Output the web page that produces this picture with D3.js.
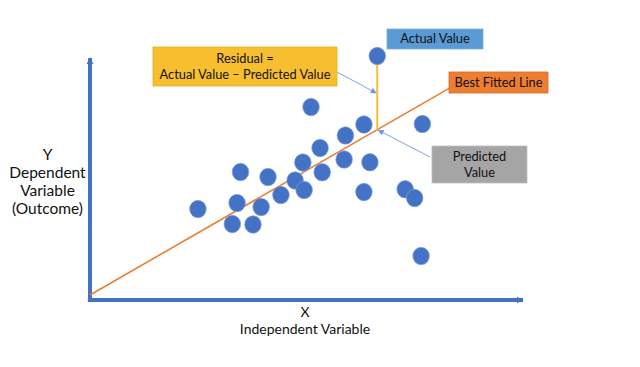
<!DOCTYPE html>
<html>
<head>
<meta charset="utf-8">
<script src="https://cdn.jsdelivr.net/npm/d3@7"></script>
<style>
  body { margin: 0; background: #fff; }
  svg text { font-family: Lato, "Open Sans", sans-serif; fill: #111; }
</style>
</head>
<body>
<svg width="640" height="367"></svg>
<script>
// observations (x = independent variable, y = outcome), 0-100 units
let obs_x = [25.1, 33.1, 34.2, 35.0, 37.9, 39.8, 41.4, 44.4, 47.7, 49.5, 49.8, 53.5,
             54.0, 51.4, 59.1, 59.4, 63.7, 65.1, 63.7, 66.8, 77.3, 73.3, 75.5, 77.0];
let obs_y = [36.4, 30.4, 38.8, 51.2, 30.2, 37.2, 49.2, 42.0, 47.8, 55.0, 44.0, 60.8,
             51.1, 77.2, 56.2, 65.8, 70.2, 55.1, 43.2, 97.6, 70.4, 44.3, 40.8, 17.6];

// best fitted line y = a + b*x
let fit_intercept = 2.0;
let fit_slope = 0.99;
let fit_x_end = 83.7;

// the point used to show the residual
let residual_index = 19;

let y_label_lines = ["Y", "Dependent", "Variable", "(Outcome)"];
let x_label_lines = ["X", "Independent Variable"];

const blue = "#4472C4";
const svg = d3.select("svg");

let x = d3.scaleLinear().domain([0, 100]).range([90, 520]);
let y = d3.scaleLinear().domain([0, 100]).range([300, 50]);

let defs = svg.append("defs");

function addMarker(id, color, w, h) {
  defs.append("marker")
      .attr("id", id)
      .attr("viewBox", "0 0 10 10")
      .attr("refX", 9).attr("refY", 5)
      .attr("markerWidth", w).attr("markerHeight", h)
      .attr("markerUnits", "userSpaceOnUse")
      .attr("orient", "auto")
    .append("path")
      .attr("d", "M0,0 L10,5 L0,10 Z")
      .attr("fill", color);
}
addMarker("axis-arrow", blue, 7, 10);
addMarker("thin-arrow", "#6f9be0", 7, 6);

// axes drawn as arrows
svg.append("line")
    .attr("x1", x(-0.5)).attr("y1", y(0))
    .attr("x2", x(100.7)).attr("y2", y(0))
    .attr("stroke", blue).attr("stroke-width", 4)
    .attr("marker-end", "url(#axis-arrow)");

svg.append("line")
    .attr("x1", x(0)).attr("y1", y(-0.8))
    .attr("x2", x(0)).attr("y2", y(96.8))
    .attr("stroke", blue).attr("stroke-width", 4)
    .attr("marker-end", "url(#axis-arrow)");

// best fitted line
svg.append("line")
    .attr("x1", x(0)).attr("y1", y(fit_intercept))
    .attr("x2", x(fit_x_end)).attr("y2", y(fit_intercept + fit_slope * fit_x_end))
    .attr("stroke", "#ED7D31").attr("stroke-width", 1.6);

// residual segment
let rx = obs_x[residual_index], ry = obs_y[residual_index];
let predicted = fit_intercept + fit_slope * rx;
svg.append("line")
    .attr("x1", x(rx)).attr("y1", y(ry))
    .attr("x2", x(rx)).attr("y2", y(predicted))
    .attr("stroke", "#F7BE2E").attr("stroke-width", 2);

// points
svg.append("g").selectAll("ellipse")
    .data(d3.range(obs_x.length))
  .enter().append("ellipse")
    .attr("cx", i => x(obs_x[i]))
    .attr("cy", i => y(obs_y[i]))
    .attr("rx", 8.3).attr("ry", 8.7)
    .attr("fill", blue)
    .attr("stroke", "#7f9fd8").attr("stroke-width", 0.7);

// callout arrows
svg.append("line")
    .attr("x1", 337).attr("y1", 72)
    .attr("x2", x(rx) - 1).attr("y2", 93)
    .attr("stroke", "#6f9be0").attr("stroke-width", 0.9)
    .attr("marker-end", "url(#thin-arrow)");

svg.append("line")
    .attr("x1", 430).attr("y1", 157)
    .attr("x2", x(rx) + 1).attr("y2", y(predicted) + 0.5)
    .attr("stroke", "#6f9be0").attr("stroke-width", 0.9)
    .attr("marker-end", "url(#thin-arrow)");

// annotation boxes
function addBox(bx, by, bw, bh, fill, stroke, lines, size) {
  let g = svg.append("g");
  g.append("rect")
      .attr("x", bx).attr("y", by)
      .attr("width", bw).attr("height", bh)
      .attr("fill", fill).attr("stroke", stroke).attr("stroke-width", 0.8);
  let step = 15.5;
  let y0 = by + bh / 2 - (lines.length - 1) * step / 2;
  g.selectAll("text")
      .data(lines)
    .enter().append("text")
      .attr("x", bx + bw / 2)
      .attr("y", (d, i) => y0 + i * step)
      .attr("dy", "0.35em")
      .attr("text-anchor", "middle")
      .style("font-size", size + "px")
      .text(d => d);
}

addBox(153, 47, 184, 39, "#F7BF2F", "#E3AC25", ["Residual =", "Actual Value \u2013 Predicted Value"], 12.8);
addBox(387, 29, 96, 20, "#5B9BD5", "#7bb0e0", ["Actual Value"], 12.8);
addBox(449, 72, 99, 21, "#ED7D31", "#d96a22", ["Best Fitted Line"], 12.8);
addBox(432, 146, 95, 37, "#A5A5A5", "#bdbdbd", ["Predicted", "Value"], 12.8);

// axis titles
svg.append("g").selectAll("text")
    .data(y_label_lines)
  .enter().append("text")
    .attr("x", 47.5)
    .attr("y", (d, i) => 155 + i * 17.7)
    .attr("dy", "0.35em")
    .attr("text-anchor", "middle")
    .style("font-size", "15.5px")
    .text(d => d);

svg.append("g").selectAll("text")
    .data(x_label_lines)
  .enter().append("text")
    .attr("x", 305)
    .attr("y", (d, i) => 312 + i * 17)
    .attr("dy", "0.35em")
    .attr("text-anchor", "middle")
    .style("font-size", "14px")
    .text(d => d);
</script>
</body>
</html>
